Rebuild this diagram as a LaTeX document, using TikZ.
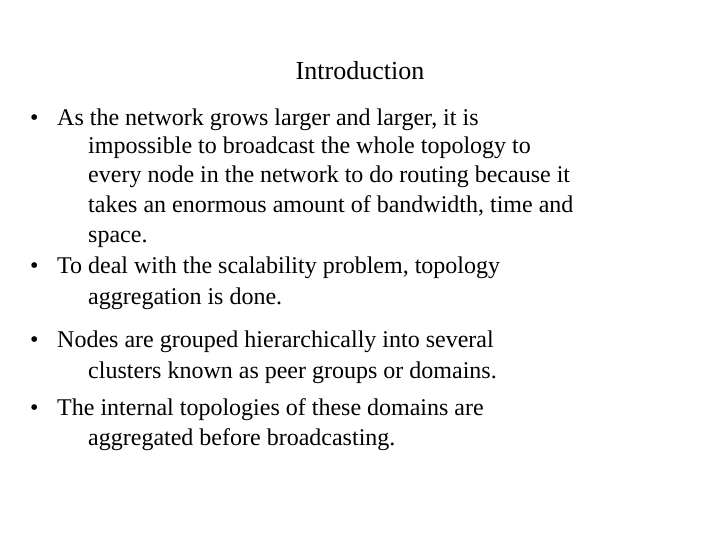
\documentclass[tikz,border=0pt]{standalone}
\usepackage{fontspec}
\setmainfont{Liberation Serif}
\begin{document}
\begin{tikzpicture}[x=1pt,y=-1pt,
  ln/.style={anchor=base west,inner sep=0pt,font=\fontsize{24}{28}\selectfont},
  bl/.style={anchor=base west,inner sep=0pt,font=\fontsize{24}{28}\selectfont}]
\useasboundingbox (0,0) rectangle (720,540);
\node[anchor=base,inner sep=0pt,font=\fontsize{26}{30}\selectfont] (title) at (360,80) {Introduction};
\node[bl] (b1) at (30,126) {•};
\node[ln] (l1) at (57,126) {As the network grows larger and larger, it is};
\node[ln] (l2) at (88,154) {impossible to broadcast the whole topology to};
\node[ln] (l3) at (88,183) {every node in the network to do routing because it};
\node[ln] (l4) at (88,213) {takes an enormous amount of bandwidth, time and};
\node[ln] (l5) at (88,243) {space.};
\node[bl] (b2) at (30,273) {•};
\node[ln] (l6) at (57,273) {To deal with the scalability problem, topology};
\node[ln] (l7) at (88,304) {aggregation is done.};
\node[bl] (b3) at (30,347) {•};
\node[ln] (l8) at (57,347) {Nodes are grouped hierarchically into several};
\node[ln] (l9) at (88,378) {clusters known as peer groups or domains.};
\node[bl] (b4) at (30,415) {•};
\node[ln] (l10) at (57,415) {The internal topologies of these domains are};
\node[ln] (l11) at (88,445) {aggregated before broadcasting.};
\end{tikzpicture}
\end{document}
